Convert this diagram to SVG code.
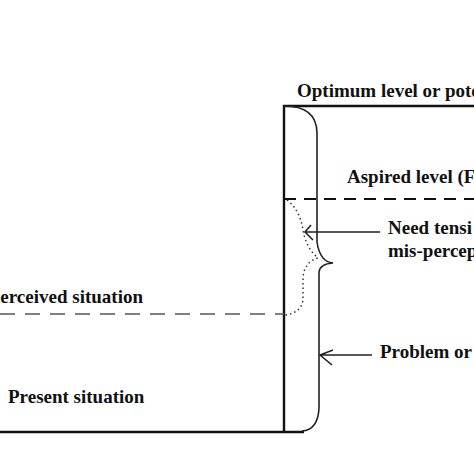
<svg xmlns="http://www.w3.org/2000/svg" width="474" height="474" viewBox="0 0 474 474">
<style>
.t{font-family:"Liberation Serif","Times New Roman",serif;font-weight:bold;font-size:19px;fill:#111}
.s{fill:none;stroke:#111;stroke-width:2.4}
.thin{fill:none;stroke:#222;stroke-width:1.6}
</style>
<rect width="474" height="474" fill="#fff"/>
<g id="frame">
<path class="s" d="M284,432 V106 H474"/>
<path class="s" d="M0,432 H304"/>
</g>
<g id="problem-outline">
<path class="thin" d="M284,106 Q316,106 317,132 V242 Q320,262 333,263 Q320,264 319,272 V408 Q318,430 302,431"/>
</g>
<g id="aspired-line">
<path fill="none" stroke="#111" stroke-width="2" stroke-dasharray="12,8" d="M284,199 H474"/>
</g>
<g id="perceived-line">
<path fill="none" stroke="#555" stroke-width="1.6" stroke-dasharray="15,10" d="M0,314 H284"/>
</g>
<g id="tension-brace">
<path fill="none" stroke="#333" stroke-width="1.5" stroke-dasharray="1.5,3" d="M287,200 Q300,210 303,230 Q306,248 318,258 Q304,262 303,278 V300 Q301,313 285,315"/>
</g>
<g id="connectors">
<path class="thin" d="M380,232 H305 M311,225 L305,232 L313,240"/>
<path class="thin" d="M372,355 H320 M333,350 L320,355 L332,365"/>
</g>
<g id="optimum"><text class="t" x="297" y="97">Optimum level or pote</text></g>
<g id="aspired"><text class="t" x="347" y="183">Aspired level (F</text></g>
<g id="need"><text class="t" x="388" y="234">Need tensi</text><text class="t" x="388" y="257">mis-percep</text></g>
<g id="perceived"><text class="t" x="143" y="303" text-anchor="end">erceived situation</text></g>
<g id="problem"><text class="t" x="380" y="358">Problem or</text></g>
<g id="present"><text class="t" x="8" y="403">Present situation</text></g>
</svg>
